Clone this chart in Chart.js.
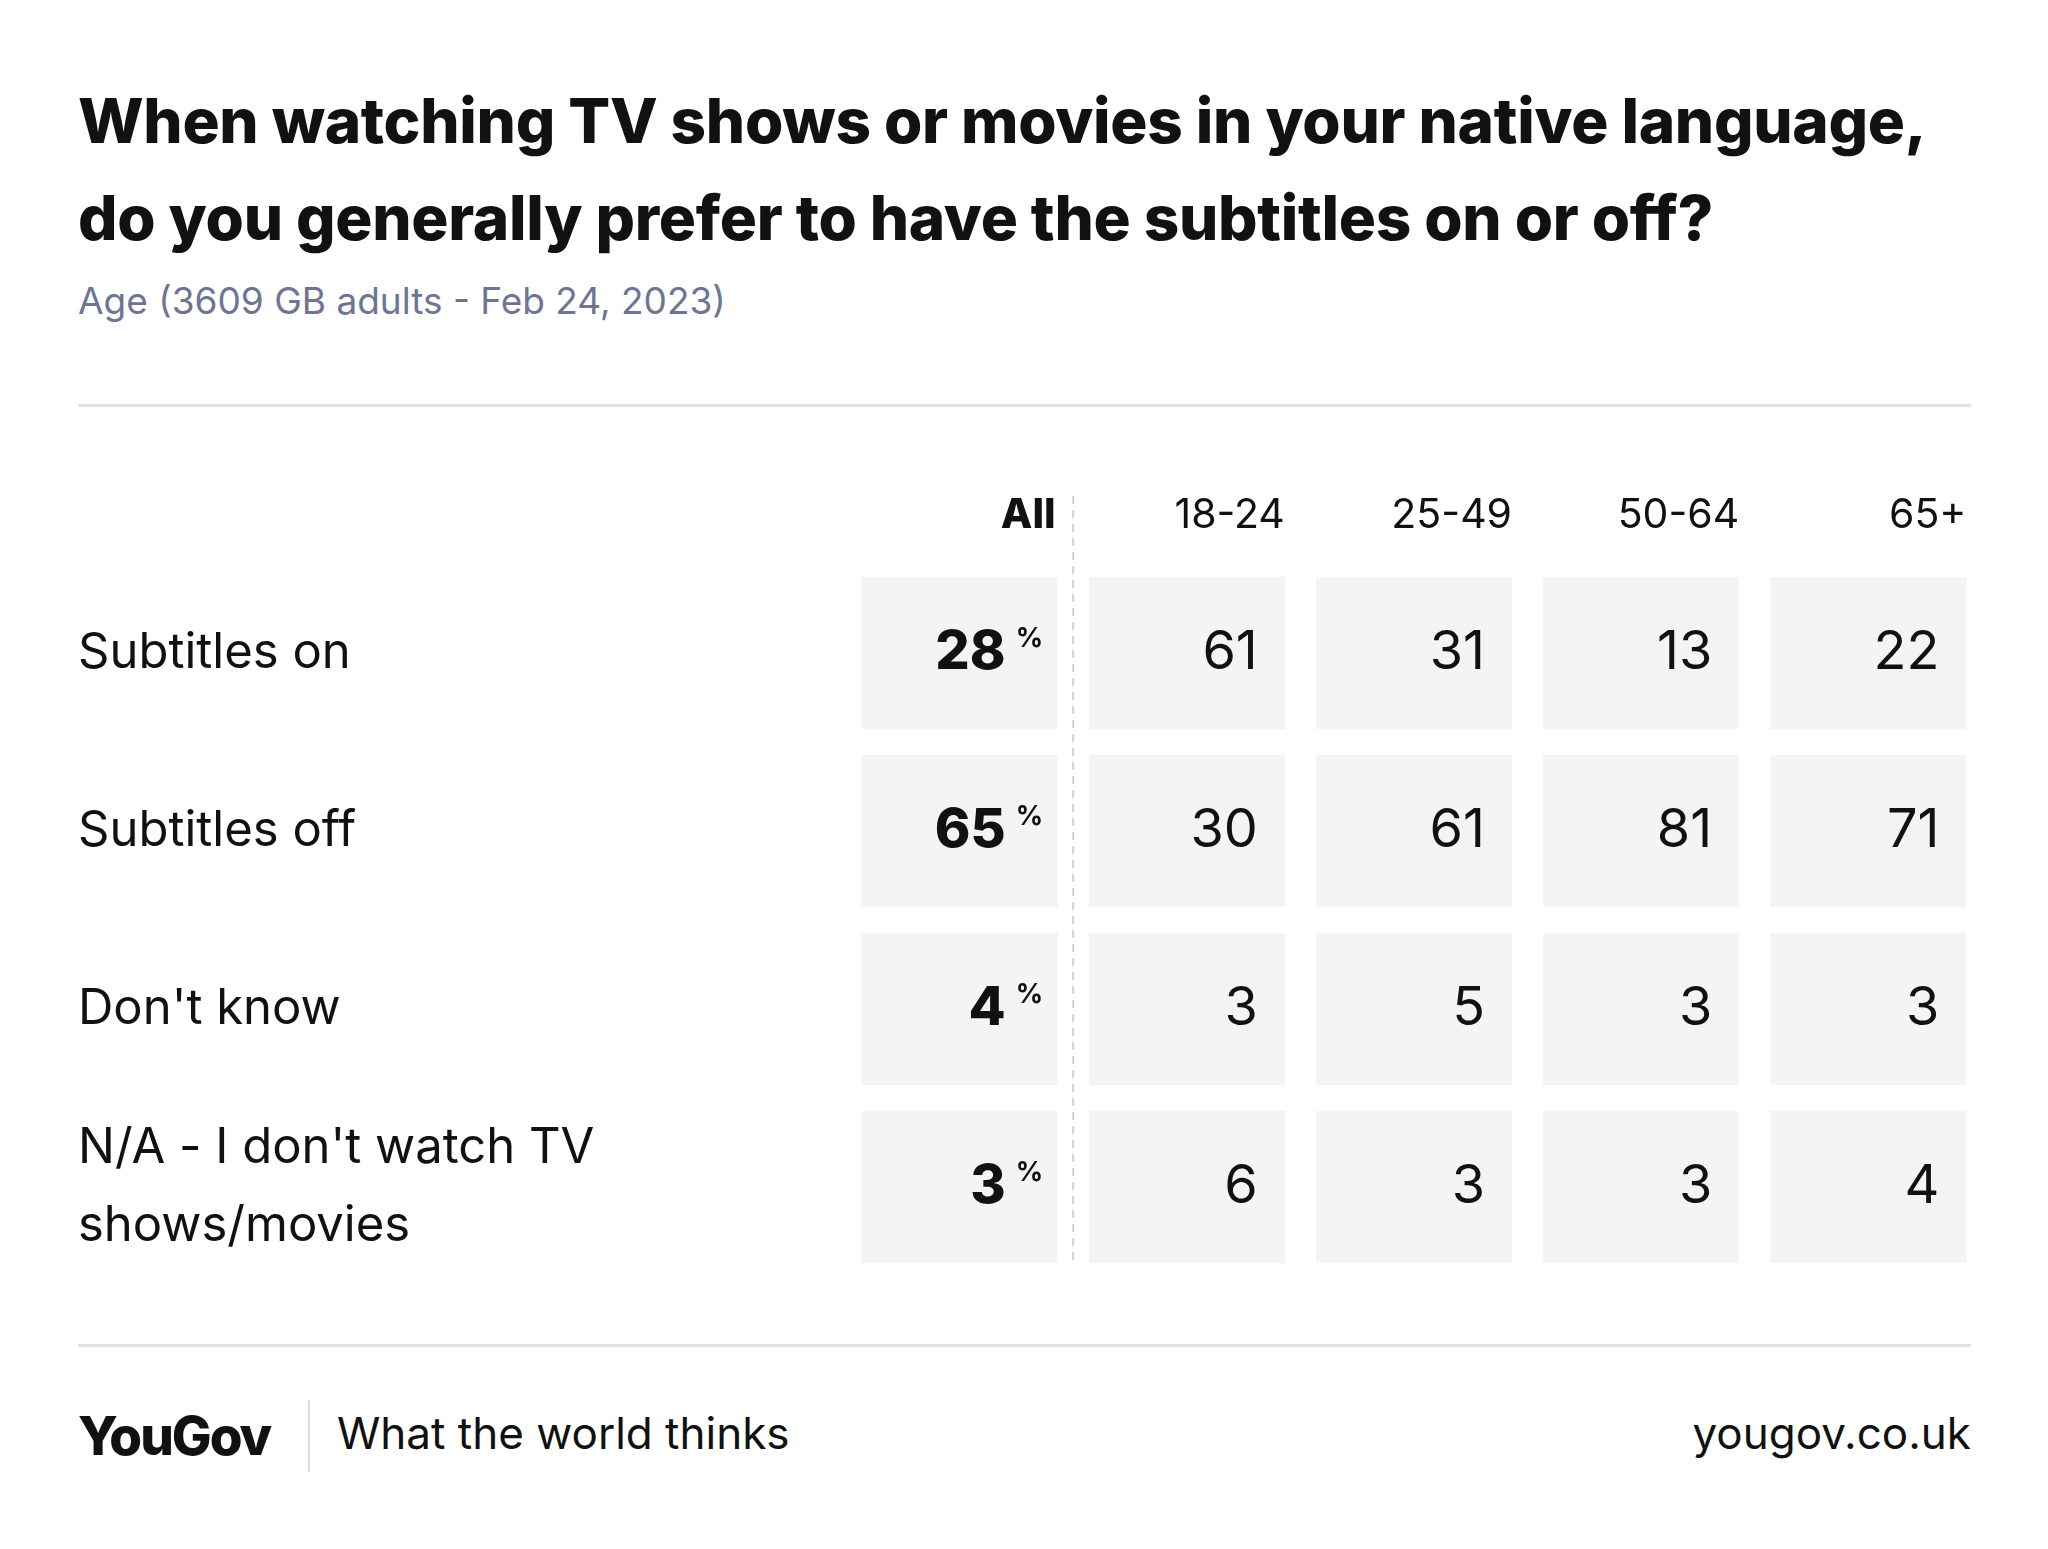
<!DOCTYPE html>
<html>
<head>
<meta charset="utf-8">
<script src="https://cdn.jsdelivr.net/npm/chart.js@4/dist/chart.umd.min.js"></script>
<style>
  body { margin: 0; background: #fff; width: 2048px; height: 1549px; position: relative; font-family: Inter, "Noto Sans", sans-serif; color: #111; overflow: hidden; }
  .title { position: absolute; left: 78px; top: 72px; font-size: 62px; font-weight: 800; line-height: 97px; letter-spacing: -0.3px; }
  .sub { position: absolute; left: 78px; top: 278px; font-size: 37px; color: #6e7592; }
  .rule { position: absolute; left: 78px; width: 1893px; height: 3px; background: #e3e3e6; }
  #wrap { position: absolute; left: 78px; top: 496px; width: 1906px; height: 790px; }
  .logo { position: absolute; left: 78px; top: 1404px; font-size: 53px; font-weight: 800; letter-spacing: -2px; }
  .vline { position: absolute; left: 308px; top: 1400px; width: 2px; height: 72px; background: #ddd; }
  .tag { position: absolute; left: 337px; top: 1406px; font-size: 44px; }
  .url { position: absolute; right: 77px; top: 1406px; font-size: 44px; }
</style>
</head>
<body>
<div class="title">When watching TV shows or movies in your native language,<br>do you generally prefer to have the subtitles on or off?</div>
<div class="sub">Age (3609 GB adults - Feb 24, 2023)</div>
<div class="rule" style="top:404px"></div>
<div id="wrap"><canvas id="c"></canvas></div>
<div class="rule" style="top:1344px"></div>
<div class="logo">YouGov</div>
<div class="vline"></div>
<div class="tag">What the world thinks</div>
<div class="url">yougov.co.uk</div>
<script>
const columns = ["All", "18-24", "25-49", "50-64", "65+"];
const rows = ["Subtitles on", "Subtitles off", "Don't know", "N/A - I don't watch TV|shows/movies"];
const subtitlesOn = [28, 61, 31, 13, 22];
const subtitlesOff = [65, 30, 61, 81, 71];
const dontKnow = [4, 3, 5, 3, 3];
const notWatching = [3, 6, 3, 3, 4];
const values = [subtitlesOn, subtitlesOff, dontKnow, notWatching];

const BAR_PCT = 0.863;

const datasets = values.map((vals, r) => ({
    label: rows[r],
    data: vals.map(() => [r + 0.073, r + 0.927]),
    values: vals,
    backgroundColor: "#f3f4f6",
    borderWidth: 0,
    grouped: false,
    barPercentage: BAR_PCT,
    categoryPercentage: 1
}));

const tablePlugin = {
    id: "tableText",
    afterDatasetsDraw(chart) {
        const ctx = chart.ctx;
        const x = chart.scales.x, y = chart.scales.y;
        ctx.save();
        // dashed separator after "All"
        const sepX = (x.getPixelForValue(0) + x.getPixelForValue(1)) / 2;
        ctx.strokeStyle = "#cfcfd4";
        ctx.lineWidth = 2;
        ctx.setLineDash([8, 6]);
        ctx.beginPath();
        ctx.moveTo(sepX, 0);
        ctx.lineTo(sepX, y.getPixelForValue(3.927));
        ctx.stroke();
        ctx.setLineDash([]);

        const half = x.width / columns.length * BAR_PCT / 2;
        ctx.fillStyle = "#111";
        ctx.textBaseline = "middle";
        // headers
        columns.forEach((c, i) => {
            ctx.font = (i === 0 ? "800 41px Inter" : "400 41px Inter");
            ctx.textAlign = "right";
            ctx.fillText(c, x.getPixelForValue(i) + half + (i === 0 ? -2 : 0), 20);
        });
        // row labels and values
        rows.forEach((label, r) => {
            const cy = y.getPixelForValue(r + 0.5);
            ctx.font = "400 49px Inter";
            ctx.textAlign = "left";
            const lines = label.split("|");
            lines.forEach((ln, k) => {
                ctx.fillText(ln, 0, cy + (k - (lines.length - 1) / 2) * 78);
            });
            values[r].forEach((v, i) => {
                const right = x.getPixelForValue(i) + half;
                if (i === 0) {
                    ctx.font = "800 54px Inter";
                    ctx.textAlign = "right";
                    ctx.fillText(String(v), right - 52, cy);
                    ctx.font = "700 27px Inter";
                    ctx.textAlign = "left";
                    ctx.fillText("%", right - 42, cy - 14);
                } else {
                    ctx.font = "400 54px Inter";
                    ctx.textAlign = "right";
                    ctx.fillText(String(v), right - 27, cy);
                }
            });
        });
        ctx.restore();
    }
};

new Chart(document.getElementById("c"), {
    type: "bar",
    data: { labels: columns, datasets },
    options: {
        responsive: true,
        maintainAspectRatio: false,
        animation: false,
        layout: { padding: { left: 768, top: 68, right: 2, bottom: 10 } },
        plugins: { legend: { display: false }, tooltip: { enabled: false } },
        scales: {
            x: { type: "category", display: false },
            y: { type: "linear", min: 0, max: 4, reverse: true, display: false }
        }
    },
    plugins: [tablePlugin]
});
</script>
</body>
</html>
